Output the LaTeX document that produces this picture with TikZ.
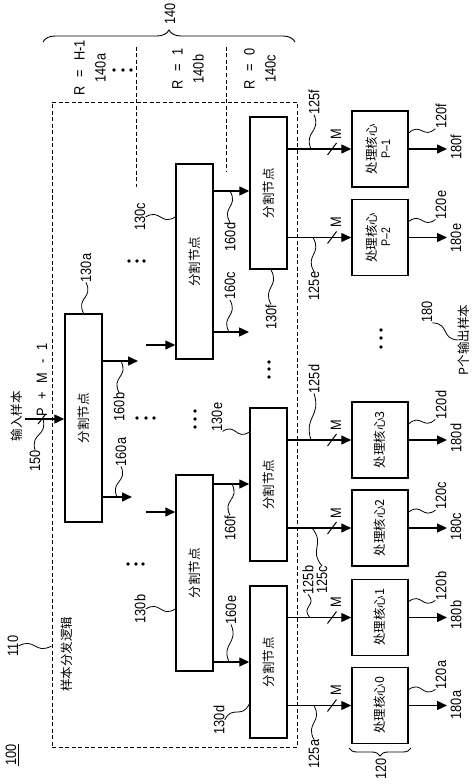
\documentclass[tikz,border=0pt]{standalone}
\usepackage{fontspec}
\usepackage{graphicx}
\setmainfont[FakeStretch=0.85]{Liberation Sans}
\newfontfamily\cjk{Noto Sans CJK SC}
\usetikzlibrary{arrows.meta,decorations.pathreplacing,calc}
\newcommand\gp{\hspace{0.6em}}
\begin{document}
\begin{tikzpicture}[x=1pt,y=-1pt,
  lab/.style={rotate=90, inner sep=0pt, font=\fontsize{15}{16}\selectfont},
  rlab/.style={rotate=90, inner sep=0pt, align=center, font=\fontsize{15}{21}\selectfont},
  clab/.style={rotate=90, inner sep=0pt, font=\cjk\fontsize{12.5}{14}\selectfont},
  box/.style={draw, line width=1.5pt, inner sep=0pt, font=\cjk\fontsize{12.5}{13.5}\selectfont},
  core/.style={box, minimum width=56, minimum height=76},
  split/.style={box, minimum width=37},
  arr/.style={line width=1.4pt, -{Triangle[length=10pt,width=9pt]}},
  leadline/.style={line width=0.8pt},
  lead/.style={to path={.. controls ($(\tikztostart)!0.5!(\tikztotarget)!9pt!90:(\tikztotarget)$) and ($(\tikztostart)!0.5!(\tikztotarget)!9pt!-90:(\tikztotarget)$) .. (\tikztotarget)}},
  dline/.style={line width=1pt, dash pattern=on 4pt off 2.5pt},
  slash/.style={line width=1pt},
  brc/.style={line width=0.9pt, decorate},
]
\useasboundingbox (0,0) rectangle (474,784);

% ---- top brace and region labels
\draw[brc, decoration={brace, amplitude=12pt}] (43,42) -- (295,42);
\node[lab] (l140) at (170,14) {140};
\node[rlab] (r2) at (90,68) {R\gp=\gp H-1\\140a};
\node[rlab] (r1) at (188,69) {R\gp=\gp 1\\140b};
\node[rlab] (r0) at (260,69) {R\gp=\gp 0\\140c};
\draw[dline] (136,47) -- (136,187);
\draw[dline] (226,47) -- (226,172);

% ---- dashed logic box
\node[draw, dline, minimum width=245, minimum height=645, inner sep=0pt] (logic) at (174.5,424.5) {};
\node[clab] (llogic) at (67,654) {样本分发逻辑};
\node[lab] (l110) at (13,646) {110};
\draw[leadline] (l110.south) to[lead] (logic.west |- l110.south);
\node[lab] (l100) at (12,755) {\underline{100}};

% ---- split nodes
\node[split, minimum height=208] (n130a) at (83.5,418) {\rotatebox{90}{分割节点}};
\node[split, minimum height=195] (n130c) at (194.5,261.5) {\rotatebox{90}{分割节点}};
\node[split, minimum height=196] (n130b) at (194.5,573) {\rotatebox{90}{分割节点}};
\node[split, minimum height=152] (n130f) at (268.5,193) {\rotatebox{90}{分割节点}};
\node[split, minimum height=153] (n130e) at (268.5,484.5) {\rotatebox{90}{分割节点}};
\node[split, minimum height=152] (n130d) at (268.5,662) {\rotatebox{90}{分割节点}};

% ---- processing cores
\node[core] (c5) at (380,149) {\rotatebox{90}{\begin{tabular}{@{}c@{}}处理核心\\\rmfamily P–1\end{tabular}}};
\node[core] (c4) at (380,237.5) {\rotatebox{90}{\begin{tabular}{@{}c@{}}处理核心\\\rmfamily P–2\end{tabular}}};
\node[core] (c3) at (380,440) {\rotatebox{90}{处理核心3}};
\node[core] (c2) at (380,528) {\rotatebox{90}{处理核心2}};
\node[core] (c1) at (380,617.5) {\rotatebox{90}{处理核心1}};
\node[core] (c0) at (380,705.5) {\rotatebox{90}{处理核心0}};

% ---- input
\coordinate (in0) at (25,419);
\draw[arr] (in0) -- (in0 -| n130a.west);
\draw[slash] (38,424) -- (45,415);
\node[clab] (lin) at (17,416) {输入样本};
\node[lab] (lpm) at (42,380) {P\gp+\gp M\gp-\gp 1};
\node[lab] (l150) at (35,461) {150};
\draw[leadline] (l150.east) to[lead] (43,419);

% ---- level H-1 outputs
\coordinate (e160b) at (138,361);
\coordinate (e160a) at (132,497);
\draw[arr] (n130a.east |- e160b) -- (e160b);
\draw[arr] (n130a.east |- e160a) -- (e160a);
\node[lab] (l130a) at (86,268) {130a};
\draw[leadline] (l130a.west) to[lead] (n130a.north);
\node[lab] (l160b) at (119,407) {160b};
\draw[leadline] (l160b.east) to[lead] (121,361);
\node[lab] (l160a) at (121,452) {160a};
\draw[leadline] (l160a.west) to[lead] (117,497);

% ---- level 1
\coordinate (s130c) at (146,345);
\coordinate (s130b) at (146,512);
\draw[arr] (s130c) -- (s130c -| n130c.west);
\draw[arr] (s130b) -- (s130b -| n130b.west);
\draw[arr] (n130c.east |- 0,191) -- (n130f.west |- 0,191);
\coordinate (e160c) at (249,332);
\draw[arr] (n130c.east |- e160c) -- (e160c);
\draw[arr] (n130b.east |- 0,484) -- (n130e.west |- 0,484);
\draw[arr] (n130b.east |- 0,662) -- (n130d.west |- 0,662);
\node[lab] (l130c) at (140,217) {130c};
\draw[leadline] (l130c.south) to[lead] (n130c.west |- l130c.south);
\node[lab] (l130b) at (140,609) {130b};
\draw[leadline] (l130b.south) to[lead] (n130b.west |- l130b.south);
\node[lab] (l160d) at (230,237) {160d};
\draw[leadline] (l160d.east) to[lead] (230,191);
\node[lab] (l160c) at (230,286) {160c};
\draw[leadline] (l160c.west) to[lead] (229,332);
\node[lab] (l160f) at (230,528) {160f};
\draw[leadline] (l160f.east) to[lead] (232,484);
\node[lab] (l160e) at (231,610) {160e};
\draw[leadline] (l160e.west) to[lead] (229,662);

% ---- level 0 labels
\node[lab] (l130f) at (271,317) {130f};
\draw[leadline] (l130f.east) to[lead] (l130f.east |- n130f.south);
\node[lab] (l130e) at (217,417) {130e};
\draw[leadline] (l130e.south west) to[lead] (n130e.west |- 0,432);
\node[lab] (l130d) at (219,720) {130d};
\draw[leadline] (l130d.south) to[lead] (n130d.west |- 0,704);

% ---- links to cores
\draw[arr] (n130f.east |- c5) -- (c5.west);
\draw[arr] (n130f.east |- c4) -- (c4.west);
\draw[arr] (n130e.east |- c3) -- (c3.west);
\draw[arr] (n130e.east |- c2) -- (c2.west);
\draw[arr] (n130d.east |- c1) -- (c1.west);
\draw[arr] (n130d.east |- c0) -- (c0.west);
\foreach \y/\k in {149/5,237.5/4,440/3,528/2,617.5/1,705.5/0}{
  \draw[slash] (327.5,\y+6) -- (336.5,\y-6);
  \node[lab] (m\k) at (336,\y-15) {M};
}
\node[lab] (l125f) at (314,102) {125f};
\draw[leadline] (l125f.west) to[lead] (311,149);
\node[lab] (l125e) at (314,286) {125e};
\draw[leadline] (l125e.east) to[lead] (313,237.5);
\node[lab] (l125d) at (314,379) {125d};
\draw[leadline] (l125d.west) to[lead] (311,440);
\node[lab] (l125c) at (322,580) {125c};
\draw[leadline] (l125c.east) to[lead] (312,528);
\node[lab] (l125b) at (308,580) {125b};
\draw[leadline] (l125b.west) to[lead] (310,617.5);
\node[lab] (l125a) at (314,754) {125a};
\draw[leadline] (l125a.east) to[lead] (314,705.5);

% ---- outputs
\foreach \c/\k/\y/\ly/\oy in {c5/f/149/116/147, c4/e/237.5/205/238, c3/d/440/405/438, c2/c/528/496/527, c1/b/617.5/586/615, c0/a/705.5/675/705}{
  \coordinate (o\k) at (447,\y);
  \draw[arr] (\c.east) -- (o\k);
  \node[lab] (l120\k) at (441,\ly) {120\k};
  \node[lab] (l180\k) at (456,\oy) {180\k};
  \draw[leadline] ([yshift=16pt]\c.east) to[lead] (l120\k.north west);
}
\node[lab] (l180) at (427,312) {180};
\node[clab] (lP) at (464,340) {P个输出样本};
\draw[leadline] (l180.south west) to[lead] (lP.north);

% ---- bottom brace
\draw[brc, decoration={brace, amplitude=8pt}] (411,748) -- (349,748);
\node[lab] (l120) at (381,769) {120};

% ---- ellipsis dots
\foreach \p in {(114,70),(123,70),(131,70),
                (129,261),(137,261),(144,261),
                (137,418),(146,418),(154,418),
                (128,564),(136,564),(143,564),
                (195,411),(195,419),(195,427),
                (269,362),(269,369),(269,377),
                (381,330),(381,338),(381,347)}
  \fill \p circle (1.8pt);
\end{tikzpicture}
\end{document}
